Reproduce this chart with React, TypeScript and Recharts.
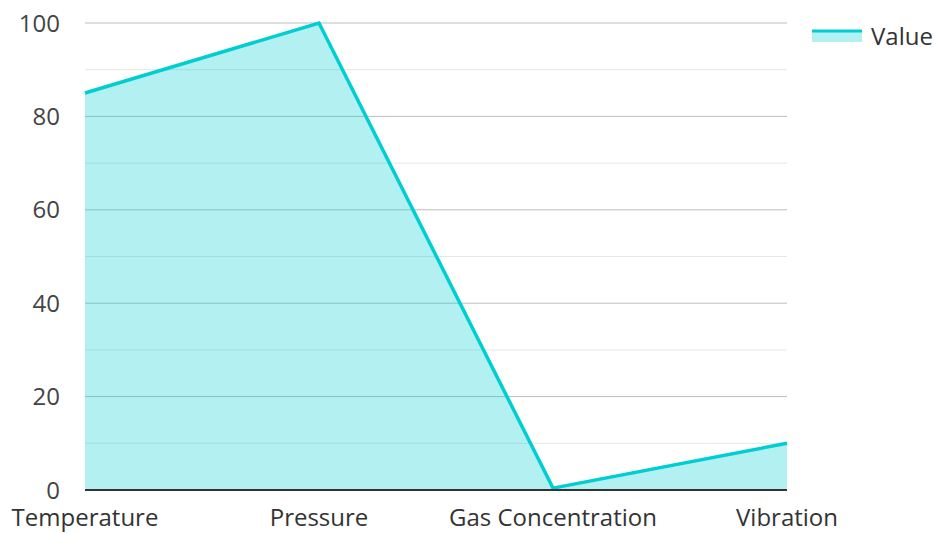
import React from 'react';
import {
  AreaChart,
  Area,
  XAxis,
  YAxis,
  CartesianGrid,
} from 'recharts';

const categories = ['Temperature', 'Pressure', 'Gas Concentration', 'Vibration'];
const values = [85, 100, 0.4, 10];
const majorTicks = [0, 20, 40, 60, 80, 100];
const minorTicks = [10, 30, 50, 70, 90];

const LINE = '#00CED1';
const FONT = '"Open Sans", sans-serif';

const data = categories.map((name, i) => ({ name, value: values[i] }));

function ValueLegend() {
  return (
    <div
      style={{
        position: 'absolute',
        top: 22,
        left: 812,
        display: 'flex',
        alignItems: 'center',
        fontFamily: FONT,
      }}
    >
      <svg width={50} height={16} style={{ marginRight: 9 }}>
        <rect x={0} y={2} width={50} height={12} fill={LINE} fillOpacity={0.3} />
        <line x1={0} x2={50} y1={3} y2={3} stroke={LINE} strokeWidth={3} />
      </svg>
      <span style={{ fontSize: 24, color: '#333', lineHeight: '28px' }}>Value</span>
    </div>
  );
}

export default function App() {
  return (
    <div style={{ position: 'absolute', left: 0, top: 0, width: 937, height: 533 }}>
      <AreaChart
        width={937}
        height={533}
        data={data}
        margin={{ top: 23, right: 150, bottom: 0, left: 15 }}
      >
        <CartesianGrid
          vertical={false}
          horizontalValues={minorTicks}
          stroke="#e6e6e6"
          strokeWidth={1}
        />
        <CartesianGrid
          vertical={false}
          horizontalValues={majorTicks}
          stroke="#bdbdbd"
          strokeWidth={1}
        />
        <XAxis
          dataKey="name"
          tickLine={false}
          tickSize={0}
          tickMargin={19}
          height={43}
          axisLine={{ stroke: '#333', strokeWidth: 2 }}
          tick={{ fill: '#333', fontSize: 24, fontFamily: FONT }}
          interval={0}
        />
        <YAxis
          domain={[0, 100]}
          ticks={majorTicks}
          width={70}
          tickLine={false}
          tickSize={0}
          tickMargin={25}
          axisLine={false}
          tick={{ fill: '#444', fontSize: 24, fontFamily: FONT }}
        />
        <Area
          type="linear"
          dataKey="value"
          stroke={LINE}
          strokeWidth={3.5}
          fill={LINE}
          fillOpacity={0.3}
          isAnimationActive={false}
          dot={false}
          activeDot={false}
        />
      </AreaChart>
      <ValueLegend />
    </div>
  );
}
